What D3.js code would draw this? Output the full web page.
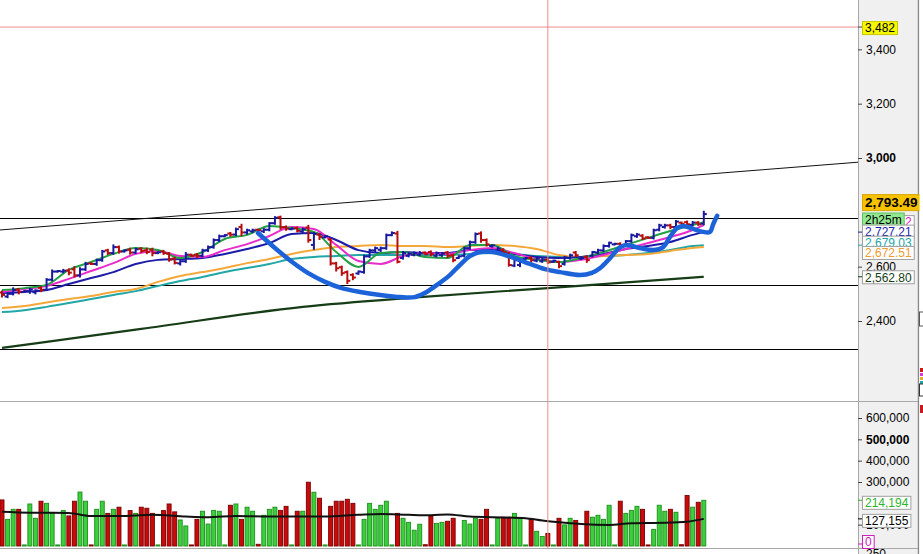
<!DOCTYPE html>
<html><head><meta charset="utf-8">
<script src="https://cdn.jsdelivr.net/npm/d3@7"></script>
<style>body{margin:0;background:#fff;} svg{display:block;font-family:"Liberation Sans",Arial,sans-serif;}</style>
</head><body><svg id="c" width="923" height="554"></svg>
<script>
// ---------- DATA ----------
const opens = [2505,2490,2500,2516,2507,2510,2506,2522,2515,2552,
2582,2582,2586,2590,2568,2590,2612,2610,2624,2660,
2650,2672,2656,2662,2652,2666,2660,2662,2650,2656,
2648,2630,2612,2620,2644,2644,2640,2660,2672,2698,
2712,2722,2718,2746,2726,2730,2736,2730,2736,2760,
2782,2746,2738,2742,2730,2744,2680,2718,2708,2700,
2612,2598,2580,2570,2575,2580,2638,2660,2662,2668,
2716,2722,2632,2640,2644,2644,2652,2654,2640,2642,
2652,2642,2632,2640,2668,2690,2722,2698,2676,2660,
2662,2650,2604,2606,2628,2632,2622,2620,2626,2618,
2618,2610,2632,2652,2630,2636,2640,2652,2660,2676,
2682,2684,2680,2694,2712,2714,2708,2706,2736,2746,
2752,2746,2762,2764,2754,2762,2758];
const highs = [2510,2505,2522,2520,2512,2520,2515,2526,2556,2588,
2586,2590,2592,2600,2596,2616,2614,2628,2660,2664,
2680,2676,2662,2668,2668,2670,2668,2668,2655,2660,
2652,2634,2626,2652,2646,2648,2664,2676,2702,2716,
2718,2726,2742,2756,2738,2738,2738,2740,2762,2784,
2786,2750,2742,2746,2742,2752,2726,2722,2714,2704,
2616,2602,2584,2574,2584,2642,2664,2672,2672,2720,
2728,2730,2656,2652,2654,2656,2654,2658,2654,2652,
2656,2646,2640,2672,2694,2724,2728,2702,2680,2672,
2666,2652,2628,2624,2634,2636,2634,2630,2630,2624,
2620,2638,2646,2656,2634,2640,2656,2664,2680,2690,
2686,2688,2696,2720,2722,2718,2710,2738,2756,2756,
2756,2770,2764,2768,2766,2766,2804];
const lows = [2488,2486,2496,2500,2505,2502,2500,2508,2512,2548,
2580,2578,2570,2562,2562,2586,2608,2605,2620,2645,
2646,2650,2654,2646,2648,2652,2648,2640,2648,2645,
2620,2610,2606,2616,2638,2634,2636,2656,2668,2692,
2710,2712,2714,2714,2720,2726,2732,2726,2732,2756,
2738,2734,2736,2728,2726,2690,2664,2700,2706,2606,
2584,2568,2538,2552,2572,2576,2634,2654,2656,2664,
2714,2614,2628,2636,2640,2640,2644,2640,2636,2638,
2634,2618,2630,2636,2664,2686,2690,2676,2672,2656,
2650,2602,2600,2600,2626,2618,2618,2616,2612,2616,
2596,2606,2628,2638,2626,2616,2636,2648,2656,2672,
2680,2672,2676,2690,2708,2700,2704,2702,2732,2742,
2740,2742,2756,2752,2750,2752,2754];
const closes = [2496,2500,2514,2507,2510,2516,2512,2515,2552,2582,
2584,2585,2578,2568,2590,2610,2610,2624,2656,2650,
2672,2656,2660,2652,2664,2658,2654,2650,2653,2650,
2626,2614,2620,2644,2640,2640,2660,2672,2698,2712,
2716,2718,2738,2726,2734,2734,2734,2736,2760,2780,
2744,2740,2740,2732,2738,2698,2720,2710,2712,2612,
2594,2576,2548,2560,2582,2638,2660,2668,2668,2716,
2724,2618,2650,2648,2650,2650,2646,2646,2650,2648,
2640,2624,2638,2668,2690,2720,2698,2682,2678,2666,
2654,2606,2624,2618,2632,2624,2630,2626,2616,2622,
2602,2634,2642,2642,2632,2624,2654,2660,2676,2688,
2684,2678,2694,2716,2718,2704,2706,2734,2752,2752,
2746,2766,2758,2756,2762,2756,2793.49];
const volumes = [216000,125000,172000,172000,5000,197000,130000,210000,200000,153000,
5000,166000,141000,210000,253000,210000,5000,172000,210000,153000,
172000,182000,5000,166000,153000,182000,177000,153000,5000,166000,
197000,160000,122000,94000,5000,125000,163000,103000,167000,163000,
5000,191000,197000,125000,182000,163000,8000,144000,172000,182000,
167000,186000,5000,163000,163000,299000,252000,224000,5000,186000,
210000,210000,219000,200000,5000,125000,200000,172000,191000,210000,
5000,153000,130000,111000,74000,102000,6000,141000,106000,111000,
116000,130000,5000,120000,103000,130000,125000,172000,5000,130000,
135000,135000,153000,130000,5000,125000,69000,45000,59000,5000,
130000,99000,130000,120000,5000,163000,135000,144000,125000,191000,
5000,210000,153000,167000,186000,172000,5000,78000,191000,163000,
172000,158000,6000,237000,182000,205000,214194];

// moving averages sampled every 4 bars (+ last bar)
const maIdx = [0,4,8,12,16,20,24,28,32,36,40,44,48,52,56,60,64,68,72,76,80,84,88,92,96,100,104,108,112,116,120,124,126];
const maGreen = [2514,2521,2533,2588,2617,2647,2669,2661,2632,2654,2702,2717,2750,2742,2728,2654,2599,2650,2654,2636,2632,2680,2680,2639,2625,2617,2632,2654,2680,2706,2731,2753,2764];
const maMagenta = [2507,2518,2529,2555,2584,2613,2647,2658,2639,2636,2661,2683,2713,2746,2739,2680,2621,2610,2639,2650,2647,2661,2669,2650,2628,2617,2625,2643,2665,2687,2709,2735,2753];
const maNavy = [2503,2507,2514,2536,2558,2580,2610,2625,2628,2632,2647,2665,2687,2720,2724,2698,2661,2650,2654,2650,2650,2661,2661,2647,2636,2632,2636,2647,2665,2676,2691,2717,2727.21];
const maOrange = [2448,2455,2468,2481,2492,2507,2518,2544,2566,2580,2595,2613,2628,2647,2661,2672,2676,2680,2676,2676,2672,2676,2680,2676,2665,2643,2636,2639,2643,2647,2658,2669,2672.51];
const maTeal = [2433,2440,2452,2466,2481,2496,2510,2529,2547,2562,2580,2595,2610,2628,2636,2639,2643,2643,2643,2643,2643,2647,2650,2647,2639,2636,2636,2639,2643,2650,2661,2676,2679.03];
const maLongIdx = [0,25,54,75,98,126];
const maLong = [2301,2371,2452,2488,2521,2562.80];

const volMaIdx = [0,5,9,12,16,21,27,33,37,42,48,53,58,64,68,73,77,80,84,88,94,97,101,104,109,113,119,123,126];
const volMa = [160000,156000,156000,155000,141000,141000,146000,138000,135000,141000,138000,138000,138000,146000,150000,146000,144000,148000,138000,135000,130000,119000,109000,103000,99000,107000,109000,114000,127155];

// hand-drawn cup & handle (bar index, price)
const cupIdx = [45.96,49.0,52.1,54.9,58.0,61.0,64.3,67.9,71.5,74.1,75.9,78.1,80.4,82.2,84.0,85.8,88.0,90.3,92.5,94.8,97.5,100.2,103.8,105.9,107.4,109.2,111.0,112.2,114.5,116.9,118.7,119.9,121.2,122.3,124.1,125.9,127.1,127.7,128.4];
const cupPrice = [2724,2669,2617,2577,2544,2521,2507,2496,2488,2488,2503,2533,2569,2606,2639,2654,2654,2643,2628,2610,2591,2580,2569,2577,2595,2632,2672,2680,2669,2661,2672,2709,2742,2750,2739,2728,2728,2757,2787];

const trendIdx = [-0.4, 154];
const trendPrice = [2735, 2985];
const hLevels = [2779, 2532, 2297];
const alertLevel = 3482;
const cursorBar = 98;
const priceTicks = [2400,2600,3000,3200,3400];
const volTicks = [100000,300000,400000,500000,600000];

// ---------- SCALES ----------
const svg = d3.select("#c");
const plotR = 858;
const x = d3.scaleLinear().domain([0,126]).range([2,703.8]);
const yP = d3.scaleLinear().domain([2400,3000]).range([321,158]);
const yV = d3.scaleLinear().domain([0,600000]).range([546,418]);

svg.append("rect").attr("width",923).attr("height",554).attr("fill","#fff");
svg.append("rect").attr("x",plotR).attr("y",0).attr("width",918-plotR).attr("height",554).attr("fill","#f0f0f0");

const defs = svg.append("defs");
defs.append("clipPath").attr("id","cp").append("rect").attr("x",0).attr("y",0).attr("width",plotR).attr("height",401);
defs.append("clipPath").attr("id","cv").append("rect").attr("x",0).attr("y",402).attr("width",plotR).attr("height",146);

const gp = svg.append("g").attr("clip-path","url(#cp)");
const gv = svg.append("g").attr("clip-path","url(#cv)");

gp.append("line").attr("x1",0).attr("x2",plotR).attr("y1",yP(alertLevel)).attr("y2",yP(alertLevel)).attr("stroke","#f08a8a").attr("stroke-width",1);

hLevels.forEach(v=>{
  gp.append("line").attr("x1",0).attr("x2",plotR).attr("y1",Math.round(yP(v))+0.5).attr("y2",Math.round(yP(v))+0.5).attr("stroke","#000").attr("stroke-width",1.2);
});
gp.append("line").attr("x1",x(trendIdx[0])).attr("y1",yP(trendPrice[0])).attr("x2",x(trendIdx[1])).attr("y2",yP(trendPrice[1])).attr("stroke","#111").attr("stroke-width",1);

const lineP = d3.line().x(d=>x(d[0])).y(d=>yP(d[1])).curve(d3.curveMonotoneX);
function ma(idx, vals, color, w){
  gp.append("path").datum(idx.map((d,i)=>[d,vals[i]])).attr("d",lineP).attr("fill","none").attr("stroke",color).attr("stroke-width",w).attr("stroke-linejoin","round");
}
ma(maLongIdx, maLong, "#163d16", 2.2);
ma(maIdx, maTeal, "#22a6a6", 2);
ma(maIdx, maOrange, "#f5a83a", 2);
ma(maIdx, maNavy, "#1c1ca8", 2);
ma(maIdx, maMagenta, "#e82ccb", 2);
ma(maIdx, maGreen, "#23a044", 2);

const bars = d3.range(closes.length).map(i=>({i,o:opens[i],h:highs[i],l:lows[i],c:closes[i],v:volumes[i]}));
const bg = gp.append("g").selectAll("g").data(bars).join("g")
  .attr("stroke", d=> d.c>=d.o ? "#1a1aa0" : "#b80d0d").attr("stroke-width",2);
bg.append("line").attr("x1",d=>x(d.i)).attr("x2",d=>x(d.i)).attr("y1",d=>yP(d.h)-0.5).attr("y2",d=>yP(d.l)+0.5);
bg.append("line").attr("x1",d=>x(d.i)-3).attr("x2",d=>x(d.i)).attr("y1",d=>yP(d.o)).attr("y2",d=>yP(d.o));
bg.append("line").attr("x1",d=>x(d.i)).attr("x2",d=>x(d.i)+3).attr("y1",d=>yP(d.c)).attr("y2",d=>yP(d.c));

gp.append("path").datum(cupIdx.map((d,i)=>[d,cupPrice[i]]))
  .attr("d", d3.line().x(d=>x(d[0])).y(d=>yP(d[1])).curve(d3.curveCatmullRom.alpha(0.5)))
  .attr("fill","none").attr("stroke","#1c62d8").attr("stroke-width",4.5).attr("stroke-linecap","round").attr("stroke-linejoin","round");

gv.append("g").selectAll("rect").data(bars).join("rect")
  .attr("x",d=>x(d.i)-2).attr("width",4)
  .attr("y",d=>yV(d.v)).attr("height",d=>yV(0)-yV(d.v))
  .attr("fill",d=> d.c>=d.o ? "#3ccf3c" : "#c80a0a")
  .attr("stroke",d=> d.c>=d.o ? "#1d8f1d" : "#7a0000").attr("stroke-width",0.9);
gv.append("path").datum(volMaIdx.map((d,i)=>[d,volMa[i]]))
  .attr("d", d3.line().x(d=>x(d[0])).y(d=>yV(d[1])).curve(d3.curveMonotoneX))
  .attr("fill","none").attr("stroke","#111").attr("stroke-width",2);

svg.append("line").attr("x1",x(cursorBar)).attr("x2",x(cursorBar)).attr("y1",0).attr("y2",548).attr("stroke","#f08a8a").attr("stroke-width",1);

svg.append("line").attr("x1",0).attr("x2",918).attr("y1",401.5).attr("y2",401.5).attr("stroke","#a8a8a8");
svg.append("line").attr("x1",0).attr("x2",918).attr("y1",548.5).attr("y2",548.5).attr("stroke","#a8a8a8");
svg.append("line").attr("x1",plotR+0.5).attr("x2",plotR+0.5).attr("y1",0).attr("y2",554).attr("stroke","#a8a8a8");
svg.append("line").attr("x1",918.5).attr("x2",918.5).attr("y1",0).attr("y2",554).attr("stroke","#8a8a8a").attr("stroke-width",1.5);

const fmt = d3.format(",");
const ax = svg.append("g").attr("transform",`translate(${plotR},0)`)
  .call(d3.axisRight(yP).tickValues(priceTicks).tickSize(4).tickPadding(4).tickFormat(fmt));
const av = svg.append("g").attr("transform",`translate(${plotR},0)`)
  .call(d3.axisRight(yV).tickValues(volTicks).tickSize(4).tickPadding(4).tickFormat(fmt));
[ax,av].forEach(a=>{
  a.select(".domain").remove();
  a.selectAll("line").attr("stroke","#444");
  a.selectAll("text").attr("font-size",12).attr("fill","#000").attr("font-family","Liberation Sans, Arial, sans-serif");
});
ax.selectAll(".tick").filter(d=>d===3000).select("text").attr("font-weight","bold");
av.selectAll(".tick").filter(d=>d===500000).select("text").attr("font-weight","bold");

function tag(cy, text, opt){
  const g = svg.append("g");
  const fs = opt.fs || 12;
  const t = g.append("text").attr("x",865).attr("y",cy).attr("dy","0.36em").attr("font-size",fs)
    .attr("font-weight",opt.bold?"bold":"normal").attr("fill",opt.color||"#000").text(text);
  const w = opt.w || (t.node().getComputedTextLength()+5);
  const h = opt.h || 13;
  g.insert("rect","text").attr("x",862.5).attr("y",cy-h/2).attr("width",w).attr("height",h)
    .attr("fill",opt.bg||"#fff").attr("stroke",opt.border||"#a0a0a0").attr("stroke-width",1);
  if(opt.tick){
    g.append("line").attr("x1",plotR).attr("x2",862).attr("y1",opt.tick).attr("y2",opt.tick).attr("stroke",opt.color||"#444");
  }
}
tag(yP(alertLevel)+1, fmt(alertLevel), {bg:"#f7f700", border:"#c8c800", tick:yP(alertLevel)});
tag(yP(maMagenta[maMagenta.length-1])-3, "2,753.62", {color:"#e020c0"});
tag(219.5, "2h25m", {bg:"#92e892", border:"#60c060"});
tag(yP(maNavy[maNavy.length-1])-0.5, "2,727.21", {color:"#1c1ca8", tick:yP(maNavy[maNavy.length-1])});
tag(yP(maTeal[maTeal.length-1])-2.5, "2,679.03", {color:"#22a6a6", tick:yP(maTeal[maTeal.length-1])});
tag(yP(maOrange[maOrange.length-1])+6, "2,672.51", {color:"#f09a30"});
tag(yP(maLong[maLong.length-1])+0.5, "2,562.80", {color:"#163d16", tick:yP(maLong[maLong.length-1])});
tag(yP(closes[closes.length-1])-11.5, "2,793.49", {bg:"#f6c200", border:"#d8a800", bold:true, fs:13.5, h:16});

tag(yV(volumes[volumes.length-1])+2.5, fmt(volumes[volumes.length-1]), {color:"#2cb52c", tick:yV(volumes[volumes.length-1])});
tag(yV(volMa[volMa.length-1])+2, fmt(volMa[volMa.length-1]), {color:"#000", tick:yV(volMa[volMa.length-1])});
tag(yV(0)-4, "0", {color:"#d020c0", border:"#d020c0", tick:yV(0)-2});
svg.append("text").attr("x",866).attr("y",558).attr("font-size",12).attr("fill","#000").text("250");

svg.append("rect").attr("x",919.5).attr("y",0).attr("width",4).attr("height",554).attr("fill","#fff");
svg.append("rect").attr("x",919.5).attr("y",312).attr("width",5).attr("height",14).attr("fill","#fff").attr("stroke","#555");
svg.append("rect").attr("x",920).attr("y",368).attr("width",4).attr("height",4).attr("fill","#c81a1a");
svg.append("rect").attr("x",920).attr("y",373).attr("width",4).attr("height",3).attr("fill","#d040d0");
svg.append("rect").attr("x",920).attr("y",377).attr("width",4).attr("height",3).attr("fill","#e0b030");
svg.append("rect").attr("x",920).attr("y",381).attr("width",4).attr("height",3).attr("fill","#22a6a6");
svg.append("rect").attr("x",919.5).attr("y",384).attr("width",5).attr("height",12).attr("fill","#fff").attr("stroke","#333");
svg.append("rect").attr("x",920).attr("y",405).attr("width",4).attr("height",8).attr("fill","#c81a1a");
</script></body></html>
